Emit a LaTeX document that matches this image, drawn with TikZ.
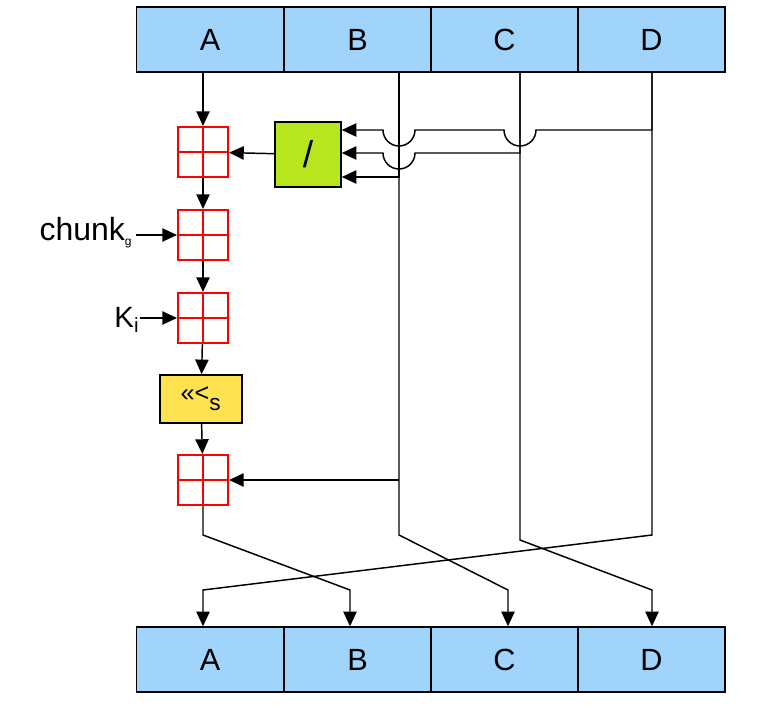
\documentclass[tikz,border=0pt]{standalone}
\usepackage{fontspec}
\setmainfont{Liberation Sans}
\usetikzlibrary{arrows.meta}
\begin{document}
\begin{tikzpicture}[
  x = 0.75pt, y = -0.75pt,
  line width = 1.1pt,
  cell/.style = {draw, fill = {rgb,255:red,160;green,212;blue,250},
    minimum width = 110.25pt, minimum height = 48.75pt, inner sep = 0, font = \fontsize{23}{27}\selectfont},
  add/.style = {draw = red, line width = 1.6pt, minimum size = 37.5pt, inner sep = 0,
    path picture = {\draw [red, line width = 1.6pt] (path picture bounding box.north) -- (path picture bounding box.south)
      (path picture bounding box.west) -- (path picture bounding box.east);}},
  arr/.style = {-{Triangle[length = 11pt, width = 10pt]}},
]
\useasboundingbox (0, 0) rectangle (771, 710);

% top and bottom registers
\foreach \n/\t/\x in {tA/A/210, tB/B/357.5, tC/C/504.5, tD/D/651.5}
  \node [cell] (\n) at (\x, 39.5) {\t};
\foreach \n/\t/\x in {bA/A/210, bB/B/357.5, bC/C/504.5, bD/D/651.5}
  \node [cell] (\n) at (\x, 659.5) {\t};

% column taps
\coordinate (cA) at (203, 72);
\coordinate (cB) at (399, 72);
\coordinate (cC) at (520, 72);
\coordinate (cD) at (652, 72);

% round function
\node [add] (a1) at (203, 152) {};
\node [add] (a2) at (203, 235) {};
\node [add] (a3) at (203, 318) {};
\node [draw, fill = {rgb,255:red,255;green,226;blue,80}, minimum width = 61.5pt, minimum height = 36pt,
  inner sep = 0, font = \fontsize{19}{22}\selectfont] (rot) at (201, 399) {\raisebox{1pt}{<<<}\textsubscript{\raisebox{-3pt}{\fontsize{17}{20}\selectfont s}}};
\node [add] (a4) at (203, 480) {};
\node [draw, fill = {rgb,255:red,184;green,230;blue,30}, minimum width = 49.5pt, minimum height = 48.75pt,
  inner sep = 0, font = \fontsize{28}{32}\selectfont] (f) at (308, 154.5) {/};

\node [anchor = east, font = \fontsize{24}{28}\selectfont, inner sep = 0] (chunk) at (133, 233) {chunk\textsubscript{\fontsize{9}{10}\selectfont g}};
\node [anchor = east, font = \fontsize{22}{26}\selectfont, inner sep = 0] (key) at (140, 320) {K\textsubscript{i}};
\coordinate (chunkout) at (136, 235);
\coordinate (keyout) at (140, 318);

\draw [arr] (cA) -- (a1);
\draw [arr] (a1) -- (a2);
\draw [arr] (a2) -- (a3);
\draw [arr] (a3) -- (rot);
\draw [arr] (rot) -- (a4);
\draw [arr] (f) -- (a1);
\draw [arr] (chunkout) -- (a2);
\draw [arr] (keyout) -- (a3);

% inputs of the function box, hopping over crossing wires
\draw [arr] (cD) |- (536, 130) arc [start angle = 0, end angle = 180, radius = 16]
  -- (415, 130) arc [start angle = 0, end angle = 180, radius = 16] -- (f.east |- 0, 130);
\draw [arr] (cC) |- (415, 153) arc [start angle = 0, end angle = 180, radius = 16] -- (f.east |- 0, 153);
\draw [arr] (cB) |- (f.east |- 0, 177);
\draw [arr] (399, 480) -- (a4);

% output permutation
\draw [arr] (a4) -- (203, 535) -- (350, 590) -- (bB.north -| 350, 0);
\draw [arr] (cB) -- (399, 535) -- (508, 590) -- (bC.north -| 508, 0);
\draw [arr] (cC) -- (520, 540) -- (652, 590) -- (bD.north -| 652, 0);
\draw [arr] (cD) -- (652, 535) -- (203, 590) -- (bA.north -| 203, 0);
\end{tikzpicture}
\end{document}
